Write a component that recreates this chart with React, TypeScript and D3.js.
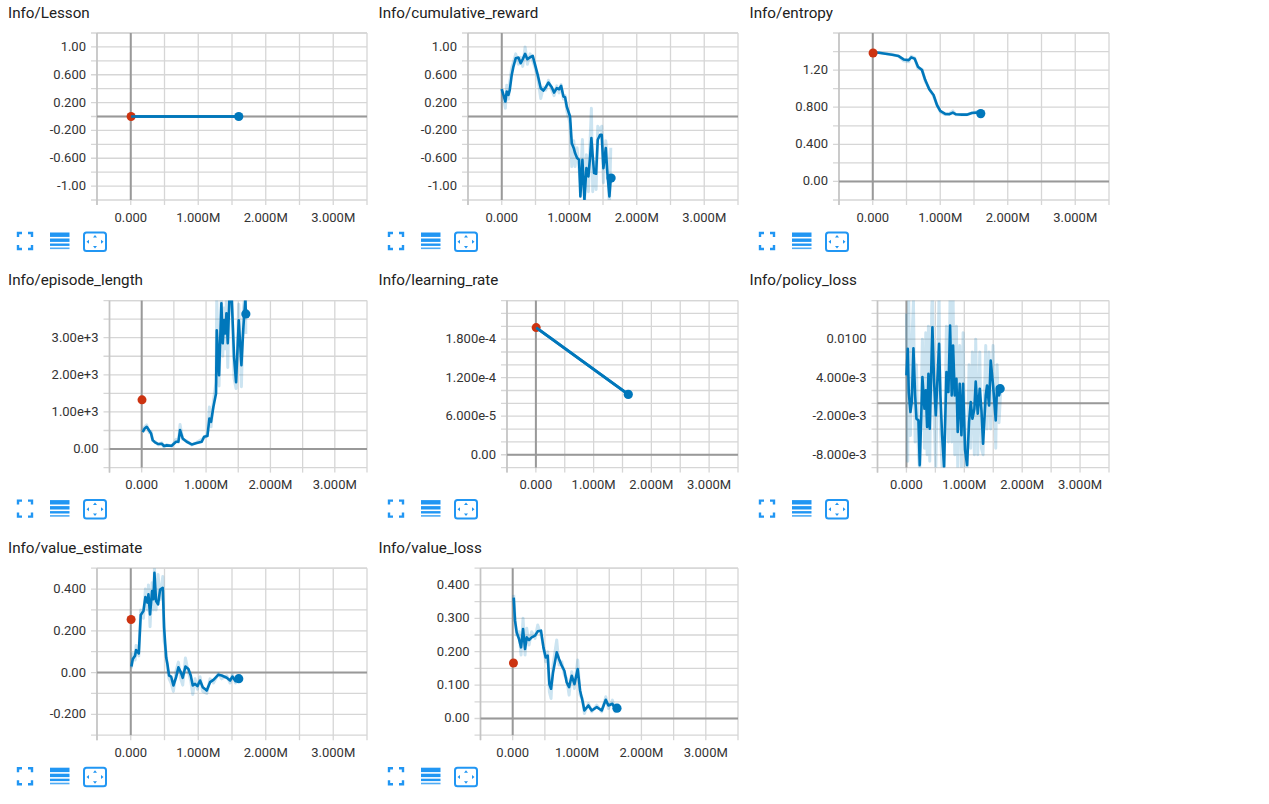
import React from "react";
import * as d3 from "d3";

const FONT = "Roboto, sans-serif";
const BLUE = "#0077bb";
const RED = "#cc3311";

const xTickLabels = ["0.000", "1.000M", "2.000M", "3.000M"];
const xTickValues = [0, 1, 2, 3];

const titles = [
  "Info/Lesson", "Info/cumulative_reward", "Info/entropy",
  "Info/episode_length", "Info/learning_rate", "Info/policy_loss",
  "Info/value_estimate", "Info/value_loss",
];

// Lesson
const lessonX = [0.005, 1.6];
const lessonY = [0, 0];

// cumulative reward
const rewardX = [0, .025, .054, .074, .099, .119, .148, .173, .207, .247, .281, .311, .346, .380, .420, .459, .494, .533, .578, .617, .652, .691, .741, .775, .815, .849, .879, .914, .938, .963, 1.012, 1.037, 1.067, 1.086, 1.116, 1.145, 1.165, 1.195, 1.225, 1.254, 1.284, 1.309, 1.328, 1.348, 1.368, 1.398, 1.422, 1.457, 1.481, 1.506, 1.541, 1.565, 1.595, 1.615];
const rewardY = [.392, .311, .215, .359, .311, .383, .598, .718, .837, .847, .766, .823, .900, .823, .852, .871, .742, .598, .407, .373, .421, .488, .421, .344, .407, .392, .440, .287, .278, .144, 0, -.383, -.455, -.526, -.598, -.622, -1.148, -.622, -1.196, -.742, -.861, -.574, -.311, -.574, -.813, -.823, -.335, -.263, -.263, -.742, -.455, -.813, -1.148, -.885];
const rewardRaw = [.40, .25, .12, .45, .25, .50, .70, .78, .90, .75, .85, .72, 1.0, .75, .90, .80, .70, .55, .26, .42, .38, .52, .38, .30, .44, .34, .46, .25, .30, .08, -.10, -.72, -.35, -.72, -.45, -.75, -.95, -.33, -1.25, -.55, -1.08, -.35, .12, -1.08, -.65, -1.05, -.14, -.20, -.14, -.95, -.35, -.60, -1.3, -.45];

// entropy
const entropyX = [.015, .089, .187, .286, .384, .458, .532, .571, .621, .670, .729, .778, .837, .901, .951, 1.0, 1.074, 1.133, 1.187, 1.232, 1.320, 1.394, 1.468, 1.542, 1.606];
const entropyY = [1.391, 1.387, 1.376, 1.366, 1.351, 1.315, 1.308, 1.337, 1.323, 1.237, 1.201, 1.093, .993, .932, .824, .760, .728, .724, .742, .724, .720, .720, .738, .742, .731];
const entropyRaw = [1.39, 1.39, 1.38, 1.37, 1.35, 1.30, 1.29, 1.35, 1.33, 1.22, 1.21, 1.08, 1.0, .92, .83, .75, .72, .73, .76, .72, .72, .72, .74, .75, .73];

// episode length
const episodeX = [.016, .047, .078, .119, .145, .171, .207, .259, .311, .347, .389, .466, .534, .570, .596, .637, .699, .777, .855, .933, .969, 1.021, 1.052, 1.078, 1.114, 1.155, 1.166, 1.202, 1.238, 1.259, 1.280, 1.300, 1.316, 1.337, 1.363, 1.399, 1.435, 1.466, 1.508, 1.549, 1.580, 1.611, 1.618];
const episodeY = [457, 556, 600, 493, 421, 242, 179, 134, 143, 81, 99, 90, 197, 197, 511, 287, 197, 125, 161, 197, 332, 350, 824, 735, 1138, 1496, 3199, 1989, 3925, 2849, 3477, 3118, 3656, 2849, 4050, 4050, 2473, 1800, 3468, 2258, 3289, 4050, 3640];
const episodeRaw = [500, 600, 650, 440, 470, 220, 200, 110, 170, 50, 120, 70, 260, 180, 660, 260, 220, 110, 180, 260, 300, 400, 1130, 600, 1300, 1800, 4100, 1700, 4200, 2500, 3800, 2700, 4100, 2200, 4300, 4200, 1900, 1630, 3900, 1680, 3800, 4200, 3100];

// learning rate
const rateX = [0.005, 1.6];
const rateY = [1.98e-4, 9.4e-5];

// policy loss (values in units of 1e-3)
const policyX = [0, .023, .040, .069, .092, .121, .150, .173, .207, .230, .276, .311, .334, .357, .380, .403, .438, .449, .478, .507, .564, .587, .616, .650, .691, .725, .754, .783, .806, .835, .864, .886, .921, .950, .979, 1.013, 1.048, 1.082, 1.111, 1.140, 1.174, 1.197, 1.232, 1.267, 1.296, 1.324, 1.370, 1.393, 1.428, 1.456, 1.497, 1.543, 1.566, 1.600, 1.629];
const policyY = [4.35, 8.48, 1.76, -1.35, .21, 8.59, 1.24, -2.38, -2.64, -9.62, 4.09, -.83, 2.02, -3.67, 4.60, -3.93, 8.48, 11.85, 3.31, -1.86, 9.26, 1.24, -4.97, -9.88, 4.86, 1.76, 12.1, 1.24, 9.0, 1.24, 3.83, -4.45, 3.05, -4.97, 3.05, -7.29, -9.62, -2.90, .21, -2.38, -.83, 3.41, -1.60, 2.28, -1.09, -6.26, 1.24, 2.79, -.31, 6.67, 2.79, -2.64, 2.53, 1.24, 2.28];
const policyRaw = [14, -9, 16, -5, 9, 16, -6, 6, -8, -10.5, 10, -7, 11, -8, 12, -9, 15, 17, -2, -10, 17, -4, -10, -11, 12, -6, 17, -6, 17, -8, 12, -10, 9, -10, 11, -10, -11, 6, -7, 8, -8, 10, -8, 8, -7, -8, 9, -4, 8, -4, 9, -7, 6, -3, 2];

// value estimate
const estimateX = [.010, .030, .064, .079, .119, .148, .188, .217, .247, .262, .286, .316, .336, .351, .375, .405, .435, .474, .494, .524, .543, .568, .598, .632, .672, .706, .741, .770, .810, .854, .889, .919, .953, .988, 1.027, 1.067, 1.126, 1.175, 1.225, 1.299, 1.348, 1.422, 1.472, 1.506, 1.551, 1.600];
const estimateY = [.029, .065, .081, .108, .092, .276, .295, .362, .335, .375, .279, .390, .351, .478, .343, .327, .398, .406, .216, .073, .041, -.014, -.019, -.062, -.022, .025, .002, -.025, .029, .017, -.014, -.062, -.054, -.065, -.038, -.070, -.086, -.046, -.035, -.010, -.014, -.025, -.038, -.019, -.041, -.029];
const estimateRaw = [.02, .09, .06, .13, .08, .30, .26, .40, .30, .42, .22, .43, .30, .50, .30, .47, .35, .46, .15, .10, .02, -.03, -.05, -.09, .01, .05, -.03, -.06, .07, 0, -.04, -.105, -.03, -.08, -.02, -.09, -.10, -.03, -.05, -.005, -.03, -.015, -.05, -.01, -.05, -.02];

// value loss
const lossX = [.016, .036, .062, .098, .130, .161, .192, .218, .254, .295, .347, .389, .440, .477, .513, .544, .570, .596, .627, .684, .720, .762, .803, .839, .876, .917, .959, 1.010, 1.047, 1.083, 1.114, 1.176, 1.228, 1.306, 1.383, 1.446, 1.487, 1.549, 1.591, 1.627];
const lossY = [.362, .293, .258, .238, .213, .268, .208, .243, .235, .243, .248, .261, .263, .213, .183, .188, .103, .089, .138, .198, .178, .158, .143, .108, .094, .128, .103, .148, .084, .054, .024, .039, .024, .034, .024, .056, .039, .044, .029, .031];
const lossRaw = [.37, .30, .25, .26, .19, .30, .19, .27, .22, .26, .24, .28, .25, .22, .17, .20, .08, .06, .16, .235, .16, .17, .13, .12, .07, .14, .09, .175, .07, .06, .015, .045, .02, .04, .02, .065, .03, .055, .02, .035];

// y tick values
const ticks02 = [-1.2, -1, -.8, -.6, -.4, -.2, 0, .2, .4, .6, .8, 1, 1.2];
const entropyTicks = [-.2, 0, .2, .4, .6, .8, 1, 1.2, 1.4, 1.6];
const episodeTicks = [-500, 0, 500, 1000, 1500, 2000, 2500, 3000, 3500, 4000];
const rateTicks = [-2e-5, 0, 2e-5, 4e-5, 6e-5, 8e-5, 1e-4, 1.2e-4, 1.4e-4, 1.6e-4, 1.8e-4, 2e-4, 2.2e-4, 2.4e-4];
const policyTicks = [-10, -8, -6, -4, -2, 0, 2, 4, 6, 8, 10, 12, 14, 16];
const estimateTicks = [-.3, -.2, -.1, 0, .1, .2, .3, .4, .5];
const lossTicks = [-.05, 0, .05, .1, .15, .2, .25, .3, .35, .4, .45];

// labelled y ticks
const labels02: [number, string][] = [[1, "1.00"], [.6, "0.600"], [.2, "0.200"], [-.2, "-0.200"], [-.6, "-0.600"], [-1, "-1.00"]];
const entropyLabels: [number, string][] = [[1.2, "1.20"], [.8, "0.800"], [.4, "0.400"], [0, "0.00"]];
const episodeLabels: [number, string][] = [[3000, "3.00e+3"], [2000, "2.00e+3"], [1000, "1.00e+3"], [0, "0.00"]];
const rateLabels: [number, string][] = [[1.8e-4, "1.800e-4"], [1.2e-4, "1.200e-4"], [6e-5, "6.000e-5"], [0, "0.00"]];
const policyLabels: [number, string][] = [[10, "0.0100"], [4, "4.000e-3"], [-2, "-2.000e-3"], [-8, "-8.000e-3"]];
const estimateLabels: [number, string][] = [[.4, "0.400"], [.2, "0.200"], [0, "0.00"], [-.2, "-0.200"]];
const lossLabels: [number, string][] = [[.4, "0.400"], [.3, "0.300"], [.2, "0.200"], [.1, "0.100"], [0, "0.00"]];

// red "closest point" markers
const redPoints: [number, number][] = [
  [0.005, 0], [NaN, NaN], [0.005, 1.385], [0.005, 1326], [0.005, 1.98e-4], [NaN, NaN], [0.005, .254], [0.012, .166],
];
const endPoints: [number, number][] = [
  [1.6, 0], [1.62, -.885], [1.6, .731], [1.618, 3640], [1.6, 9.4e-5], [1.62, 2.28], [1.6, -.029], [1.62, .031],
];

const panels = [
  { xs: lessonX, ys: lessonY, raw: lessonY, dom: [-1.2, 1.2], t: ticks02, l: labels02, left: 97 },
  { xs: rewardX, ys: rewardY, raw: rewardRaw, dom: [-1.2, 1.2], t: ticks02, l: labels02, left: 97 },
  { xs: entropyX, ys: entropyY, raw: entropyRaw, dom: [-.2, 1.6], t: entropyTicks, l: entropyLabels, left: 97 },
  { xs: episodeX, ys: episodeY, raw: episodeRaw, dom: [-500, 4000], t: episodeTicks, l: episodeLabels, left: 109.5 },
  { xs: rateX, ys: rateY, raw: rateY, dom: [-2e-5, 2.4e-4], t: rateTicks, l: rateLabels, left: 136 },
  { xs: policyX, ys: policyY, raw: policyRaw, dom: [-10, 16], t: policyTicks, l: policyLabels, left: 135.5 },
  { xs: estimateX, ys: estimateY, raw: estimateRaw, dom: [-.3, .5], t: estimateTicks, l: estimateLabels, left: 97 },
  { xs: lossX, ys: lossY, raw: lossRaw, dom: [-.05, .45], t: lossTicks, l: lossLabels, left: 109.5 },
];

const COL = 371;
const ROW = 267.6;
const xMinor = [-.5, 0, .5, 1, 1.5, 2, 2.5, 3, 3.5];

function Icons({ y }: { y: number }) {
  const s = "#2196f3";
  return (
    <g transform={`translate(0,${y})`}>
      <path d="M18 -4V-8H22 M28 -8H32V-4 M32 4V8H28 M22 8H18V4" fill="none" stroke={s} strokeWidth={2.4} />
      <rect x={50} y={-8.5} width={19.5} height={4.4} fill={s} />
      <rect x={50} y={-2.5} width={19.5} height={3.4} fill={s} />
      <rect x={50} y={2.5} width={19.5} height={2.4} fill={s} />
      <rect x={50} y={6.5} width={19.5} height={1.6} fill={s} opacity={0.8} />
      <rect x={84} y={-8.5} width={22} height={18.5} rx={2.5} fill="none" stroke={s} strokeWidth={2} />
      <path d="M95 -6l2 2.5h-4z M95 7.5l-2 -2.5h4z M86.5 0.7l2.5 -2v4z M103.5 0.7l-2.5 -2v4z" fill={s} />
    </g>
  );
}

function Panel({ i }: { i: number }) {
  const p = panels[i];
  const ox = (i % 3) * COL;
  const oy = Math.floor(i / 3) * ROW;
  const left = p.left;
  const right = 367;
  const top = 33;
  const bottom = 200;
  const x = d3.scaleLinear().domain([-.5, 3.5]).range([left, right]);
  const y = d3.scaleLinear().domain(p.dom).range([bottom, top]);
  const line = d3.line<[number, number]>().x((d) => x(d[0])).y((d) => y(d[1]));
  const smooth = p.xs.map((v, k) => [v, p.ys[k]] as [number, number]);
  const raw = p.xs.map((v, k) => [v, p.raw[k]] as [number, number]);
  const clip = `clip${i}`;
  const grid = "#d6d6d6";
  const axis = "#999";
  const txt = { fontFamily: FONT, fontSize: 13, fill: "#333" } as const;
  const red = redPoints[i];
  const end = endPoints[i];
  return (
    <g transform={`translate(${ox},${oy})`}>
      <text x={i % 3 === 0 ? 8 : 7.5} y={17.6} style={{ fontFamily: FONT, fontSize: 15.2, fill: "#212121" }}>{titles[i]}</text>
      <clipPath id={clip}><rect x={left} y={top} width={right - left} height={bottom - top} /></clipPath>
      {p.t.map((t) => (
        <line key={t} x1={left - 6} x2={right} y1={y(t)} y2={y(t)} stroke={grid} strokeWidth={1.3} />
      ))}
      {xMinor.map((t) => (
        <line key={t} x1={x(t)} x2={x(t)} y1={top} y2={bottom + 5} stroke={grid} strokeWidth={1.3} />
      ))}
      <line x1={left} x2={right} y1={top} y2={top} stroke={grid} strokeWidth={1.3} />
      <line x1={left} x2={left} y1={top} y2={bottom + 5} stroke="#c4c4c4" strokeWidth={1.6} />
      <line x1={left} x2={right} y1={y(0)} y2={y(0)} stroke={axis} strokeWidth={2} />
      <line x1={x(0)} x2={x(0)} y1={top} y2={bottom} stroke={axis} strokeWidth={2} />
      {p.l.map(([v, s]) => (
        <text key={s} x={left - 11} y={y(v) - 0.6} dy="0.35em" textAnchor="end" style={txt}>{s}</text>
      ))}
      {xTickValues.map((v, k) => (
        <text key={v} x={x(v)} y={221.5} textAnchor="middle" style={txt}>{xTickLabels[k]}</text>
      ))}
      <g clipPath={`url(#${clip})`}>
        <path d={line(raw) || ""} fill="none" stroke={BLUE} strokeOpacity={0.2} strokeWidth={3} strokeLinejoin="round" />
        <path d={line(smooth) || ""} fill="none" stroke={BLUE} strokeWidth={2.6} strokeLinejoin="round" />
      </g>
      {!isNaN(red[0]) && <circle cx={x(red[0])} cy={y(red[1])} r={4.5} fill={RED} />}
      {i === 0 || i === 4 ? (
        <path d={line(smooth) || ""} fill="none" stroke={BLUE} strokeWidth={2.6} />
      ) : null}
      <circle cx={x(end[0])} cy={y(end[1])} r={4.6} fill={BLUE} />
      <Icons y={241} />
    </g>
  );
}

export default function App() {
  return (
    <svg width={1253} height={790} style={{ position: "absolute", left: 0, top: 0, background: "#fff" }}>
      {titles.map((_, i) => <Panel key={i} i={i} />)}
    </svg>
  );
}
